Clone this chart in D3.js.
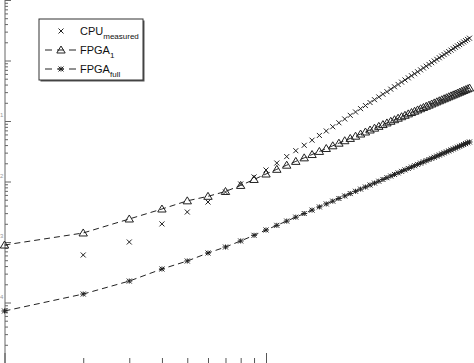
<!DOCTYPE html>
<html>
<head>
<meta charset="utf-8">
<script src="https://cdn.jsdelivr.net/npm/d3@7"></script>
<style>
  html, body { margin: 0; padding: 0; background: #fff; }
  svg { display: block; font-family: "Liberation Sans", Arial, sans-serif; }
</style>
</head>
<body>
<div id="chart"></div>
<script>
// problem size n (x) and run time (y), both log scaled
const nValues = [1, 2, 3, 4, 5, 6, 7, 8, 9, 10,
  11, 12, 13, 14, 15, 16, 17, 18, 19, 20,
  21, 22, 23, 24, 25, 26, 27, 28, 29, 30,
  31, 32, 33, 34, 35, 36, 37, 38, 39, 40,
  41, 42, 43, 44, 45, 46, 47, 48, 49, 50,
  51, 52, 53, 54, 55, 56, 57, 58, 59, 60];

const cpuMeasured = [null, 6.1e-4, 1.0e-3, 1.99e-3, 3.13e-3, 4.58e-3, 6.70e-3, 9.10e-3, 0.0119, 0.0155,
  0.0202, 0.0258, 0.0323, 0.0397, 0.0482, 0.0577, 0.0684, 0.0803, 0.0935, 0.108,
  0.124, 0.141, 0.160, 0.180, 0.202, 0.225, 0.250, 0.277, 0.305, 0.336,
  0.368, 0.402, 0.439, 0.477, 0.517, 0.560, 0.604, 0.651, 0.700, 0.752,
  0.805, 0.861, 0.920, 0.981, 1.044, 1.111, 1.180, 1.251, 1.326, 1.403,
  1.483, 1.566, 1.652, 1.741, 1.832, 1.928, 2.025, 2.126, 2.231, 2.339];

const fpga1 = [8.91e-4, 1.41e-3, 2.40e-3, 3.51e-3, 4.79e-3, 5.69e-3, 6.84e-3, 8.61e-3, 0.0108, 0.0133,
  0.0159, 0.0186, 0.0215, 0.0246, 0.0279, 0.0314, 0.0351, 0.0389, 0.0430, 0.0472,
  0.0515, 0.0561, 0.0609, 0.0658, 0.0710, 0.0762, 0.0816, 0.0873, 0.0929, 0.0989,
  0.1050, 0.1112, 0.1177, 0.1243, 0.1311, 0.1380, 0.1450, 0.1524, 0.1596, 0.1673,
  0.1750, 0.1828, 0.1910, 0.1991, 0.2075, 0.2159, 0.2245, 0.2333, 0.2423, 0.2514,
  0.2606, 0.2700, 0.2796, 0.2893, 0.2992, 0.3092, 0.3194, 0.3296, 0.3402, 0.3508];

const fpgaFull = [7.24e-5, 1.38e-4, 2.26e-4, 3.58e-4, 4.85e-4, 6.58e-4, 8.26e-4, 1.04e-3, 1.29e-3, 1.58e-3,
  1.886e-3, 2.218e-3, 2.576e-3, 2.958e-3, 3.367e-3, 3.799e-3, 4.256e-3, 4.735e-3, 5.240e-3, 5.768e-3,
  6.318e-3, 6.893e-3, 7.489e-3, 8.11e-3, 8.75e-3, 9.42e-3, 0.01011, 0.01081, 0.01156, 0.01230,
  0.01309, 0.01388, 0.01471, 0.01556, 0.01642, 0.01731, 0.01822, 0.01915, 0.02011, 0.02109,
  0.02208, 0.02309, 0.02413, 0.02519, 0.02627, 0.02738, 0.02850, 0.02964, 0.03081, 0.03200,
  0.03321, 0.03443, 0.03568, 0.03695, 0.03824, 0.03955, 0.04088, 0.04223, 0.04361, 0.04499];

// only the last digit of each y label survives at the left edge
const yTickExponents = [-1, -2, -3, -4];

const width = 474, height = 363;
const ink = "#222";

const svg = d3.select("#chart").append("svg")
  .attr("width", width)
  .attr("height", height);

const x = d3.scaleLog().domain([1, 10]).range([4.5, 266]);
const y = d3.scaleLog().domain([1e-5, 1e1]).range([363, 0]);

const isMajor = d => Math.abs(Math.log10(d) - Math.round(Math.log10(d))) < 1e-9;

// left axis, ticks pointing into the plot
const yAxis = d3.axisRight(y).ticks(20).tickFormat("");
const gy = svg.append("g").attr("transform", "translate(5,0)").call(yAxis);
gy.select(".domain").attr("stroke", "#666").attr("d", "M0,0V363");
gy.selectAll(".tick line").attr("stroke", "#666").attr("x2", d => isMajor(d) ? 6 : 3);

yTickExponents.forEach(e => {
  svg.append("text")
    .attr("x", 0).attr("y", y(Math.pow(10, e)) - 4)
    .attr("font-size", 6).attr("fill", "#999")
    .text(Math.abs(e));
});

// bottom axis sits just below the visible area, ticks pointing up
const xAxis = d3.axisTop(x).ticks(20).tickFormat("");
const gx = svg.append("g").attr("transform", "translate(0,364)").call(xAxis);
gx.select(".domain").remove();
gx.selectAll(".tick line").attr("stroke", "#555").attr("y2", d => isMajor(d) ? -11 : -6);

// markers
function drawCross(g, s) {
  g.append("path").attr("d", `M${-s},${-s}L${s},${s}M${-s},${s}L${s},${-s}`)
    .attr("stroke", ink).attr("stroke-width", 1).attr("fill", "none");
}
function drawTriangle(g, s) {
  g.append("path").attr("d", `M0,${-s}L${s * 1.05},${s * 0.75}L${-s * 1.05},${s * 0.75}Z`)
    .attr("stroke", ink).attr("stroke-width", 1).attr("fill", "none");
}
function drawStar(g, s) {
  g.append("path").attr("d", `M${-s},${-s}L${s},${s}M${-s},${s}L${s},${-s}M${-s - 0.5},0L${s + 0.5},0M0,${-s}L0,${s}`)
    .attr("stroke", ink).attr("stroke-width", 1).attr("fill", "none");
}

const series = [
  { name: "CPU", sub: "measured", values: cpuMeasured, marker: drawCross, size: 2.5, dashed: false },
  { name: "FPGA", sub: "1", values: fpga1, marker: drawTriangle, size: 4, dashed: true },
  { name: "FPGA", sub: "full", values: fpgaFull, marker: drawStar, size: 2.5, dashed: true }
];

const line = d3.line()
  .defined(d => d.v != null)
  .x(d => x(d.n))
  .y(d => y(d.v));

series.forEach(s => {
  const pts = nValues.map((n, i) => ({ n: n, v: s.values[i] }));
  if (s.dashed) {
    svg.append("path")
      .datum(pts)
      .attr("d", line)
      .attr("fill", "none")
      .attr("stroke", ink)
      .attr("stroke-width", 1)
      .attr("stroke-dasharray", "6,4");
  }
  svg.append("g").selectAll("g")
    .data(pts.filter(d => d.v != null))
    .enter().append("g")
    .attr("transform", d => `translate(${x(d.n)},${y(d.v)})`)
    .each(function () { s.marker(d3.select(this), s.size); });
});

// legend
const legend = svg.append("g").attr("transform", "translate(39,19)");
legend.append("rect").attr("x", 1.5).attr("y", 1.5).attr("width", 104).attr("height", 61).attr("fill", "#555");
legend.append("rect").attr("x", 0).attr("y", 0).attr("width", 104).attr("height", 61)
  .attr("fill", "#fff").attr("stroke", "#333").attr("stroke-width", 1);

const rowY = [12, 31, 50];
series.forEach((s, i) => {
  const row = legend.append("g").attr("transform", `translate(0,${rowY[i]})`);
  if (s.dashed) {
    row.append("line").attr("x1", 6).attr("x2", 39).attr("y1", 0).attr("y2", 0)
      .attr("stroke", ink).attr("stroke-width", 1).attr("stroke-dasharray", "7,5");
  }
  const m = row.append("g").attr("transform", "translate(22,0)");
  s.marker(m, s.size);
  const t = row.append("text").attr("x", 41).attr("y", 4)
    .attr("font-size", 11).attr("fill", "#111");
  t.append("tspan").text(s.name);
  t.append("tspan").attr("dy", 4).attr("font-size", 8).text(s.sub);
});
</script>
</body>
</html>
